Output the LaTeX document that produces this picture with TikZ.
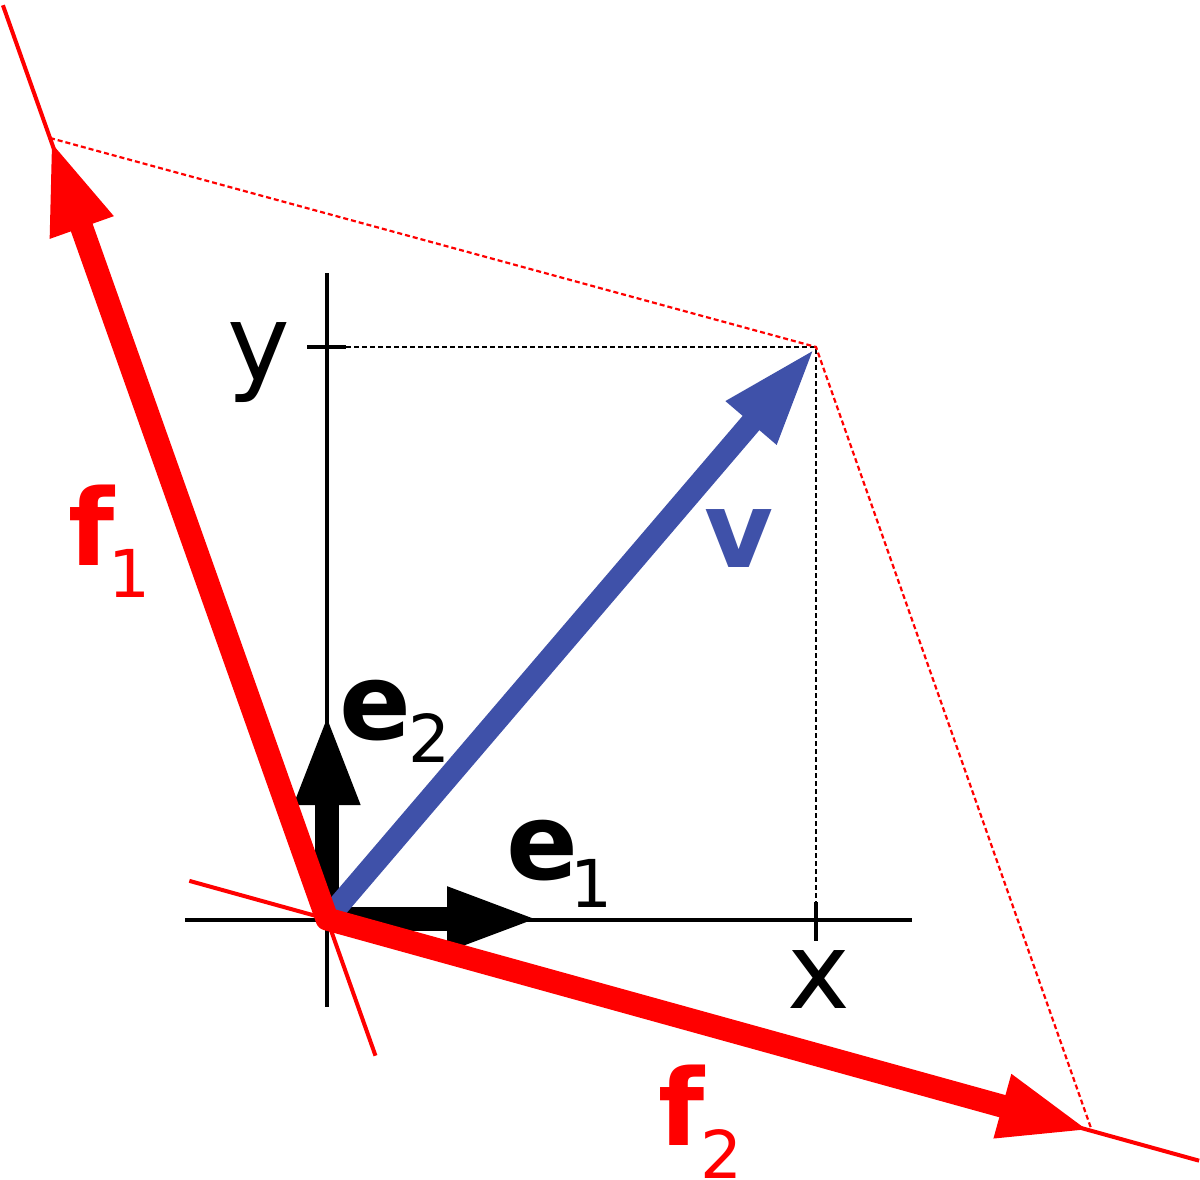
\documentclass[tikz,border=0pt]{standalone}
\usepackage{fontspec}
\setmainfont{DejaVu Sans}
\usetikzlibrary{arrows.meta,calc}
\definecolor{vblue}{RGB}{63,81,169}
\definecolor{fred}{RGB}{255,0,0}
\begin{document}
\begin{tikzpicture}[x=1pt,y=-1pt,
  axis/.style={line width=4pt},
  guide/.style={line width=2.2pt,dash pattern=on 5pt off 3pt},
  thinred/.style={fred,line width=4pt},
  bigtxt/.style={inner sep=0pt,anchor=base west,font=\fontsize{106}{110}\selectfont\bfseries},
  subtxt/.style={inner sep=0pt,anchor=base west,font=\fontsize{66}{70}\selectfont},
  axtxt/.style={inner sep=0pt,anchor=base west,font=\fontsize{106}{110}\selectfont},
  ]
\useasboundingbox (0,0) rectangle (1200,1180);
% key points
\coordinate (O) at (327,919);
\coordinate (V) at (816,347);
\coordinate (F1) at (50,138);
\coordinate (F2) at (1092,1131);
\coordinate (E1) at (542,919);
\coordinate (E2) at (327,712);
% axes
\coordinate (xl) at (185,920);
\coordinate (xr) at (912,920);
\coordinate (yt) at (327,273);
\coordinate (yb) at (327,1007);
\draw[axis] (xl) -- (xr);
\draw[axis] (yt) -- (yb);
% ticks
\coordinate (ty1) at (307,347);
\coordinate (ty2) at (346,347);
\coordinate (tx1) at (816,902);
\coordinate (tx2) at (816,941);
\draw[axis] (ty1) -- (ty2);
\draw[axis] (tx1) -- (tx2);
% black guides
\coordinate (gx) at (816,920);
\draw[guide] (ty2) -- (V) -- (tx1);
% red guides
\draw[guide,fred] (F1) -- (V) -- (F2);
% thin red lines
\draw[thinred] ($(O)!1.17!(F1)$) -- ($(O)!-0.175!(F1)$);
\draw[thinred] ($(O)!-0.18!(F2)$) -- ($(O)!1.14!(F2)$);
% basis vectors
\draw[line width=24pt,-{Triangle[length=93pt,width=59pt]}] (O) -- (E2);
\draw[line width=24pt,-{Triangle[length=95pt,width=57pt]}] (O) -- (E1);
% v
\draw[vblue,line width=22pt,-{Triangle[length=100pt,width=60pt]}] (O) -- (V);
% f1, f2
\draw[fred,line width=23pt,line join=round,{Triangle[length=95pt,width=60pt]}-{Triangle[length=93pt,width=59pt]}] (F1) -- (O) -- (F2);
% labels
\node[axtxt] (ylab) at (227,380) {y};
\node[axtxt] (xlab) at (787,1008) {x};
\node[bigtxt,text=vblue] (vlab) at (704,567) {v};
\node[bigtxt] (e2lab) at (339,739) {e};
\node[subtxt] (e2sub) at (408,762) {2};
\node[bigtxt] (e1lab) at (506,879) {e};
\node[subtxt] (e1sub) at (570,907) {1};
\node[bigtxt,text=fred] (f1lab) at (68,565) {f};
\node[subtxt,text=fred] (f1sub) at (108,597) {1};
\node[bigtxt,text=fred] (f2lab) at (658,1145) {f};
\node[subtxt,text=fred] (f2sub) at (700,1178) {2};
\end{tikzpicture}
\end{document}
